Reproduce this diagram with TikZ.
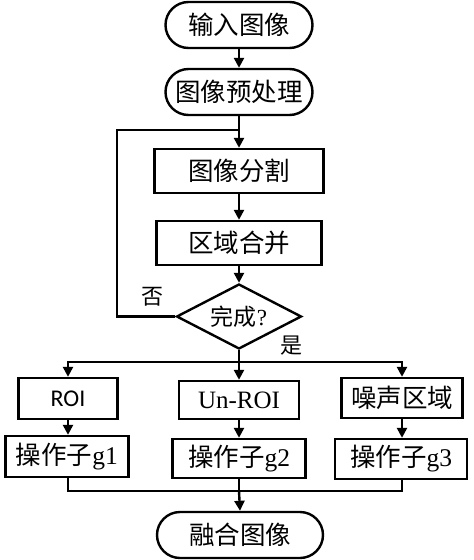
\documentclass[tikz,border=0pt]{standalone}
\usepackage{fontspec}
\setmainfont{Liberation Serif}
\newfontfamily\cjk{Noto Sans CJK SC}
\newfontfamily\calfont{Carlito}
\usetikzlibrary{shapes.geometric,arrows.meta}
\begin{document}
\begin{tikzpicture}[x=1pt,y=-1pt,line width=2.4pt,
  >={Triangle[length=10pt,width=10pt]},
  term/.style={draw,rounded corners=23pt,minimum width=#1,minimum height=46pt,inner sep=0pt,font=\cjk\fontsize{25.5}{26}\selectfont},
  box/.style={draw,rectangle,inner sep=0pt,font=\cjk\fontsize{25.5}{26}\selectfont},
  lbl/.style={font=\cjk\fontsize{22}{22}\selectfont,inner sep=0pt}]
\useasboundingbox (0,0) rectangle (474,560);
\node[term=147pt] (in) at (239,25) {输入图像};
\node[term=147pt] (pre) at (239,92) {图像预处理};
\node[box,minimum width=169pt,minimum height=44pt] (seg) at (239,171) {图像分割};
\node[box,minimum width=165pt,minimum height=44pt] (mer) at (239,243) {区域合并};
\node[draw,diamond,aspect=1.92,minimum width=125pt,minimum height=65pt,inner sep=0pt,font=\cjk\fontsize{23}{23}\selectfont] (dec) at (239,316.5) {完成\fontspec{Liberation Serif}?};
\node[box,minimum width=99pt,minimum height=41pt,font=\calfont\fontsize{24}{24}\selectfont] (roi) at (68,398.5) {ROI};
\node[box,minimum width=120pt,minimum height=38pt,font=\rmfamily\fontsize{25}{25}\selectfont] (unroi) at (239,400) {Un-ROI};
\node[box,minimum width=121pt,minimum height=40pt] (noise) at (402,398) {噪声区域};
\node[box,minimum width=123pt,minimum height=41pt] (g1) at (67,456.5) {操作子{\rmfamily g1}};
\node[box,minimum width=133pt,minimum height=39pt] (g2) at (239,458.5) {操作子{\rmfamily g2}};
\node[box,minimum width=132pt,minimum height=40pt] (g3) at (401,459) {操作子{\rmfamily g3}};
\node[term=166pt] (out) at (240,535) {融合图像};
\node[lbl] (no) at (152,297) {否};
\node[lbl] (yes) at (291,346) {是};
\coordinate (j) at (239,130);
\coordinate (lp) at (117,316.5);
\coordinate (br) at (239,362);
\coordinate (mg) at (239,491);
\draw[->] (in) -- (pre);
\draw (pre.south) -- (j);
\draw[->] (j) -- (seg.north);
\draw[->] (seg) -- (mer);
\draw[->] (mer) -- (dec);
\draw (dec.west) -- (lp) |- (j);
\draw (dec.south) -- (br);
\draw[->] (br) -| (roi.north);
\draw[->] (br) -- (unroi.north);
\draw[->] (br) -| (noise.north);
\draw[->] (roi.south) -- (roi.south |- g1.north);
\draw[->] (unroi) -- (g2);
\draw[->] (noise) -- (noise.south |- g3.north);
\draw (g1.south -| roi.south) |- (mg);
\draw (g3.south -| noise.south) |- (mg);
\draw (g2.south) -- (mg);
\draw[->] (mg) -- (out.north);
\end{tikzpicture}
\end{document}
